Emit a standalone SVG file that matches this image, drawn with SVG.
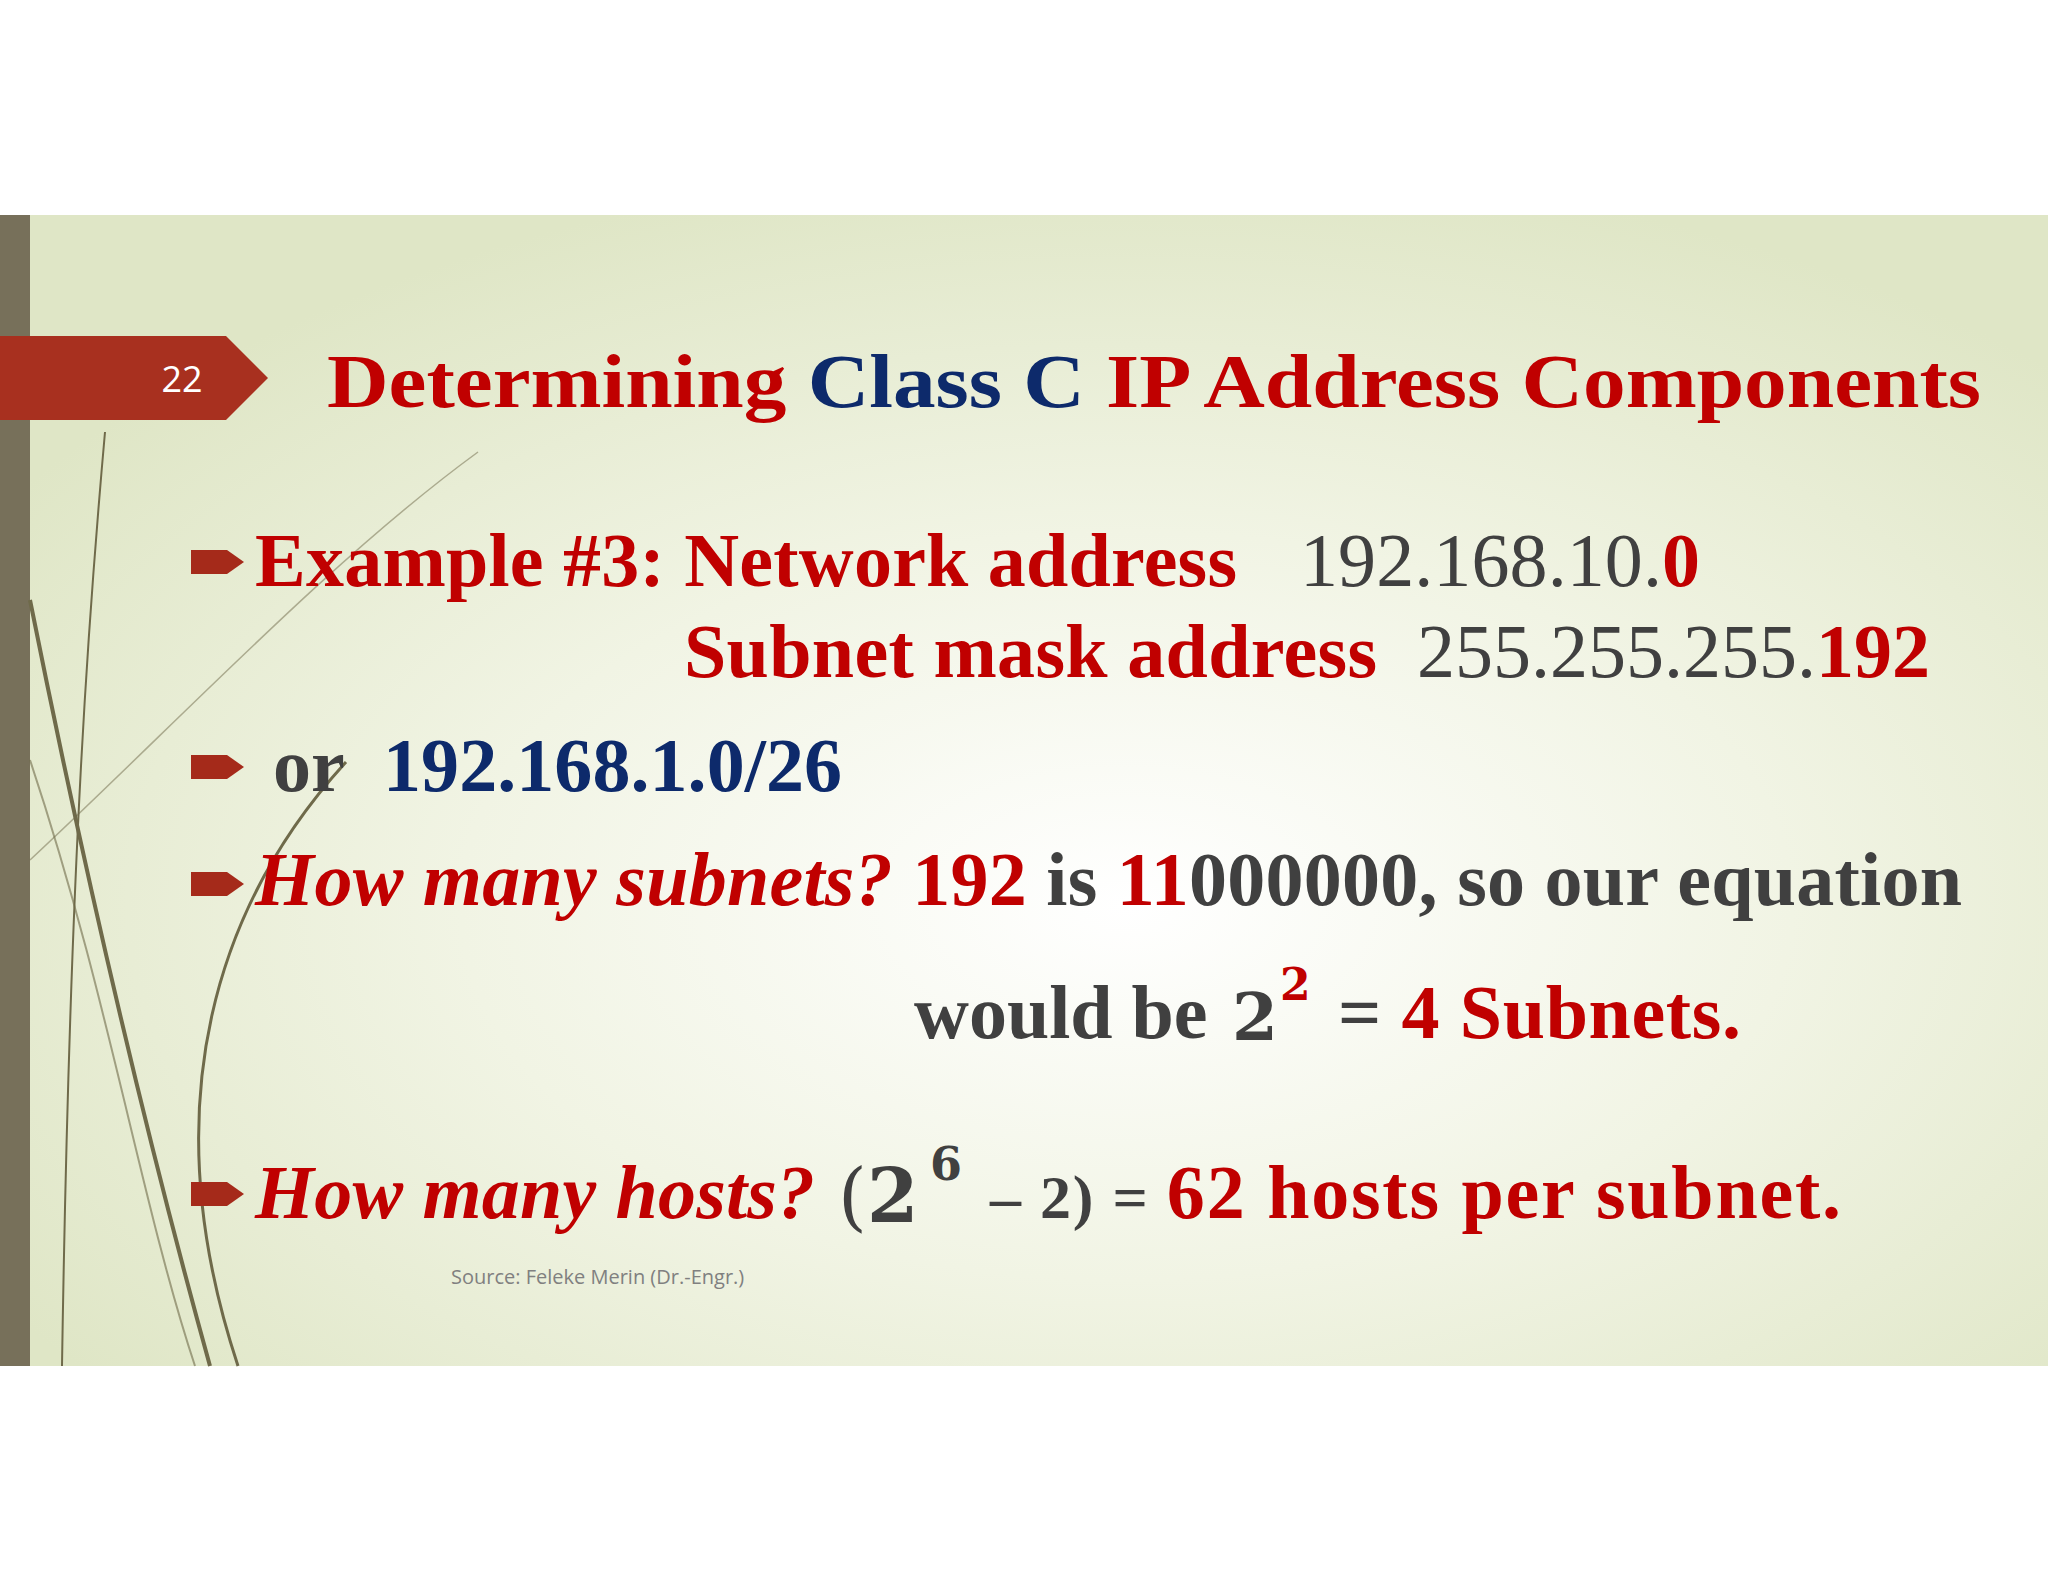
<svg xmlns="http://www.w3.org/2000/svg" width="2048" height="1582" viewBox="0 0 2048 1582">
<defs>
<radialGradient id="bg" cx="0.55" cy="0.6" r="0.65">
<stop offset="0" stop-color="#ffffff"/>
<stop offset="0.5" stop-color="#f1f4e4"/>
<stop offset="1" stop-color="#dfe6c6"/>
</radialGradient>
<style>
.s{font-family:"Liberation Serif",serif;font-size:76px;font-weight:bold}
.r{fill:#c00000}.g{fill:#404040}.n{fill:#0d2a6b}
.i{font-style:italic}.reg{font-weight:normal}
.m{font-family:"DejaVu Serif","Liberation Serif",serif;font-weight:bold}
.bul{fill:#a52a1a}
.deco{fill:none;stroke:#6f6a4a}
</style>
</defs>
<rect width="2048" height="1582" fill="#fff"/>
<rect x="0" y="215" width="2048" height="1151" fill="url(#bg)"/>
<rect x="0" y="215" width="30" height="1151" fill="#77705a"/>
<g id="deco">
<path class="deco" stroke-width="2" d="M105 432 C90 600 70 850 62 1366"/>
<path class="deco" stroke-width="1.5" stroke-opacity="0.5" d="M478 452 C330 560 180 720 30 860"/>
<path class="deco" stroke-width="4" d="M30 600 C90 900 150 1150 210 1366"/>
<path class="deco" stroke-width="3" d="M346 762 C220 900 150 1100 238 1366"/>
<path class="deco" stroke-width="2" stroke-opacity="0.6" d="M30 760 C110 1000 140 1200 195 1366"/>
</g>
<g id="tab">
<path d="M0 336 H226 L268 378 L226 420 H0 Z" fill="#a8301f"/>
<text x="182" y="392" font-family="Open Sans,sans-serif" font-size="36" fill="#fff" text-anchor="middle">22</text>
</g>
<g id="title">
<text class="s" x="327" y="407" font-size="80" textLength="1654" lengthAdjust="spacingAndGlyphs"><tspan class="r">Determining </tspan><tspan class="n">Class C </tspan><tspan class="r">IP Address Components</tspan></text>
</g>
<g id="bullets">
<path class="bul" d="M191 550 h36 l17 12 l-17 12 h-36 z"/>
<path class="bul" d="M191 755 h36 l17 12 l-17 12 h-36 z"/>
<path class="bul" d="M191 872 h36 l17 12 l-17 12 h-36 z"/>
<path class="bul" d="M191 1182 h36 l17 12 l-17 12 h-36 z"/>
</g>
<g id="body">
<text class="s r" x="255" y="586" textLength="982">Example #3: Network address</text>
<text class="s" x="1300" y="586" textLength="400"><tspan class="g reg">192.168.10.</tspan><tspan class="r">0</tspan></text>
<text class="s r" x="684" y="677" textLength="693">Subnet mask address</text>
<text class="s" x="1417" y="677" textLength="513"><tspan class="g reg">255.255.255.</tspan><tspan class="r">192</tspan></text>
<text class="s g" x="273" y="791">or</text>
<text class="s n" x="383" y="791" textLength="459">192.168.1.0/26</text>
<text class="s" x="255" y="905" textLength="1707"><tspan class="r i">How many subnets? </tspan><tspan class="r">192 </tspan><tspan class="g">is </tspan><tspan class="r">11</tspan><tspan class="g">000000, so our equation</tspan></text>
<text class="s g" x="914" y="1038">would be</text>
<text class="m g" x="1232" y="1040" font-size="66">2</text>
<text class="m r" x="1280" y="1000" font-size="44">2</text>
<text class="s" x="1338" y="1038" textLength="403"><tspan class="g">= </tspan><tspan class="r">4 Subnets.</tspan></text>
<text class="s r i" x="255" y="1218" textLength="560">How many hosts?</text>
<text class="m g" x="838" y="1222" font-size="74"><tspan font-weight="normal">(</tspan>2</text>
<text class="m g" x="930" y="1180" font-size="46">6</text>
<text class="s" x="990" y="1218" textLength="851"><tspan class="g" font-size="62">– 2) = </tspan><tspan class="r">62 hosts per subnet.</tspan></text>
<text x="451" y="1284" font-family="Open Sans,sans-serif" font-size="20" fill="#808080">Source: Feleke Merin (Dr.-Engr.)</text>
</g>
</svg>
